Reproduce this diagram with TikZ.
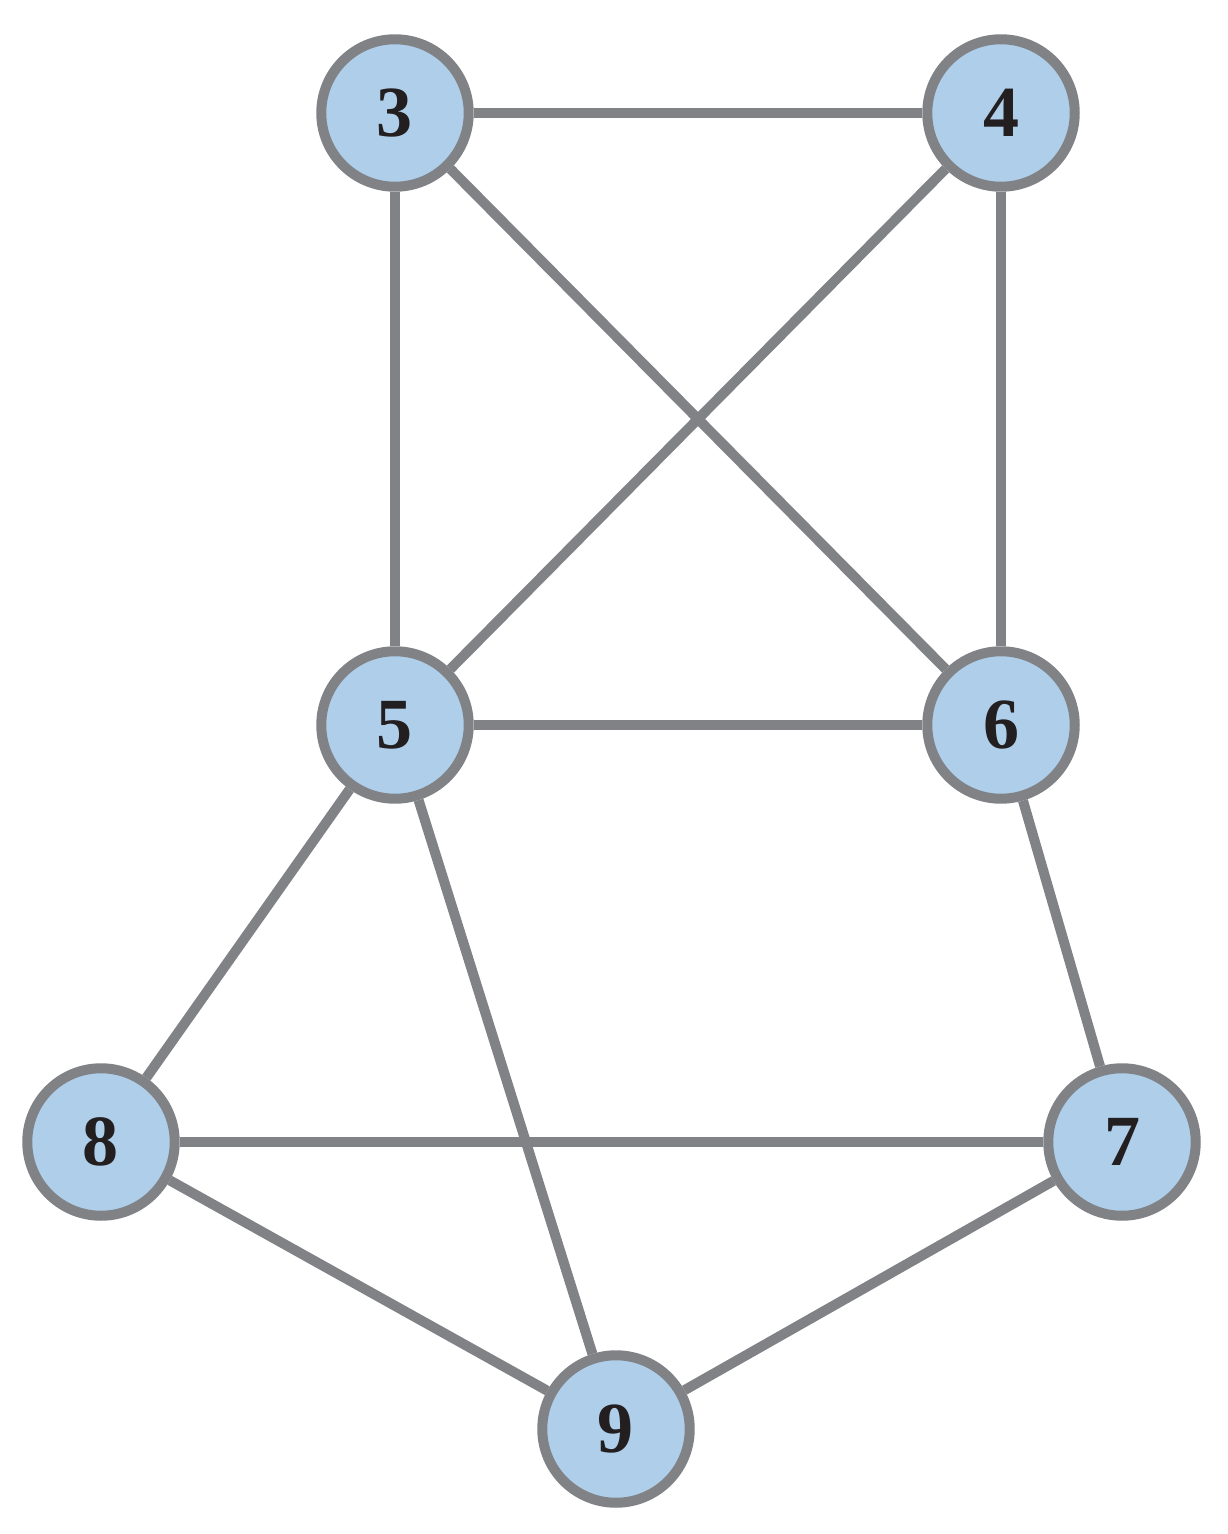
\documentclass[tikz,border=0pt]{standalone}
\usepackage{fontspec}
\setmainfont{Liberation Serif}
\definecolor{nfill}{RGB}{174,206,234}
\definecolor{ngray}{RGB}{128,130,134}
\definecolor{ntext}{RGB}{35,31,32}
\begin{document}
\begin{tikzpicture}[x=0.02cm,y=-0.02cm,
  vert/.style={circle,draw=ngray,fill=nfill,line width=0.2cm,minimum size=2.95cm,inner sep=0pt,text=ntext,font=\fontsize{41}{41}\selectfont\bfseries},
  edge/.style={draw=ngray,line width=0.2cm}]
\useasboundingbox (0,0) rectangle (1227,1534);
\node[vert] (n3) at (395,113) {3};
\node[vert] (n4) at (1001,113) {4};
\node[vert] (n5) at (395,725) {5};
\node[vert] (n6) at (1001,725) {6};
\node[vert] (n8) at (101,1142) {8};
\node[vert] (n7) at (1122,1142) {7};
\node[vert] (n9) at (616,1429) {9};
\foreach \a/\b in {n3/n4,n3/n5,n3/n6,n4/n5,n4/n6,n5/n6,n5/n8,n5/n9,n6/n7,n8/n7,n8/n9,n9/n7}
  \path[edge] (\a) -- (\b);
\end{tikzpicture}
\end{document}
